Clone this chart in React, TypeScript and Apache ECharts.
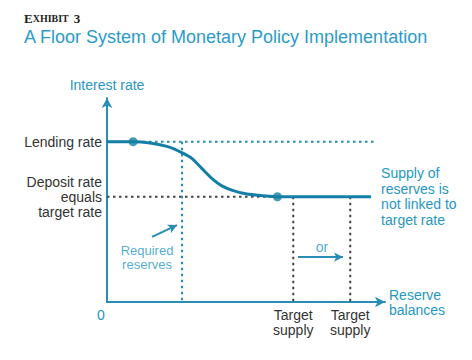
import React, { useEffect, useRef } from "react";
import * as echarts from "echarts";

// Chart values (arbitrary units: x = reserve balances 0-100, y = interest rate 0-100)
const lendingRate = 78.6;
const depositRate = 51.6;
const requiredReserves = 27;
const targetSupplies = [67, 87.5];
const lendingPoint = [9.4, 78.6];
const floorPoint = [61.3, 51.6];
const curveX = [0, 9.4, 15.5, 22.7, 26.9, 30.5, 34.1, 37.7, 41.3, 45.4, 50.3, 56.2, 61.3, 95];
const curveY = [78.6, 78.6, 77.9, 75.8, 73.2, 70.4, 65.5, 60.6, 56.9, 54.6, 52.9, 52.1, 51.6, 51.6];
const lendingLineEnd = 96;
const orArrow = [[68.7, 22], [84.9, 22]];
const orLabel = [77.3, 27];
const reqArrow = [[16.2, 31.9], [25.2, 37.7]];
const reqLabel = [14.4, 21.8];
const yTickValues = [depositRate, lendingRate];
const yTickLabels = ["Deposit rate\nequals\ntarget rate", "Lending rate"];
const xTickValues = [0, targetSupplies[0], targetSupplies[1]];
const xTickLabels = ["0", "Target\nsupply", "Target\nsupply"];

const TEAL = "#2597c4";
const LINE = "#137fa6";
const DARK = "#333333";
const FONT = "Liberation Sans, Arial, sans-serif";

export default function App() {
  const ref = useRef<HTMLDivElement>(null);
  useEffect(() => {
    if (!ref.current) return;
    const chart = echarts.init(ref.current, null, { renderer: "svg" });
    const curve = curveX.map((x, i) => [x, curveY[i]]);
    const dotted = (data: number[][], color: string) => ({
      type: "line",
      data,
      showSymbol: false,
      symbol: "none",
      silent: true,
      lineStyle: { color, width: 2, type: [2.5, 3.5] },
      z: 3,
    });
    chart.setOption({
      animation: false,
      textStyle: { fontFamily: FONT },
      title: [
        {
          text: "{e|E}{s|XHIBIT} {e|3}",
          left: 24,
          top: 9,
          padding: 0,
          textStyle: {
            rich: {
              e: { fontFamily: "Liberation Serif, serif", fontWeight: "bold", fontSize: 13, color: "#222" },
              s: { fontFamily: "Liberation Serif, serif", fontWeight: "bold", fontSize: 10, color: "#222" },
            },
          },
        },
        {
          text: "A Floor System of Monetary Policy Implementation",
          left: 24,
          top: 28,
          padding: 0,
          textStyle: { fontFamily: FONT, fontSize: 18, fontWeight: "normal", color: "#2a9bc8" },
        },
      ],
      grid: { left: 107, right: 87, top: 98, bottom: 58, containLabel: false },
      xAxis: {
        type: "value",
        min: 0,
        max: 100,
        splitLine: { show: false },
        axisTick: { show: false },
        axisLine: {
          lineStyle: { color: "#2a8db5", width: 2 },
          symbol: ["none", "arrow"],
          symbolSize: [8, 10],
        },
        name: "Reserve\nbalances",
        nameLocation: "end",
        nameGap: 4,
        nameTextStyle: { color: TEAL, fontSize: 14, lineHeight: 15, align: "left", fontFamily: FONT },
        axisLabel: {
          customValues: xTickValues,
          margin: 5,
          fontSize: 14,
          lineHeight: 15,
          fontFamily: FONT,
          color: (v: number) => (v === 0 ? TEAL : DARK),
          formatter: (v: number) => {
            const i = xTickValues.indexOf(v);
            const t = i >= 0 ? xTickLabels[i] : "";
            return v === 0 ? "{z|" + t + "}" : t;
          },
          rich: { z: { color: TEAL, fontSize: 14, padding: [0, 12, 0, 0] } },
        },
      },
      yAxis: {
        type: "value",
        min: 0,
        max: 100,
        splitLine: { show: false },
        axisTick: { show: false },
        axisLine: {
          lineStyle: { color: "#2a8db5", width: 2 },
          symbol: ["none", "arrow"],
          symbolSize: [8, 10],
        },
        name: "Interest rate",
        nameLocation: "end",
        nameGap: 6,
        nameTextStyle: { color: TEAL, fontSize: 14, align: "center", fontFamily: FONT },
        axisLabel: {
          customValues: yTickValues,
          margin: 5,
          fontSize: 14,
          lineHeight: 15,
          fontFamily: FONT,
          color: (v: number) => (v === lendingRate ? TEAL : DARK),
          formatter: (v: number) => {
            const i = yTickValues.indexOf(v);
            return i >= 0 ? yTickLabels[i] : "";
          },
        },
      },
      series: [
        dotted([[0, lendingRate], [lendingLineEnd, lendingRate]], "#1f8ab3"),
        dotted([[0, depositRate], [floorPoint[0], depositRate]], "#444"),
        dotted([[requiredReserves, lendingRate], [requiredReserves, 0]], "#1f8ab3"),
        dotted([[targetSupplies[0], depositRate], [targetSupplies[0], 0]], "#444"),
        dotted([[targetSupplies[1], depositRate], [targetSupplies[1], 0]], "#444"),
        {
          type: "line",
          data: curve,
          smooth: 0.25,
          showSymbol: false,
          symbol: "none",
          lineStyle: { color: LINE, width: 3 },
          z: 5,
          markPoint: {
            symbol: "circle",
            symbolSize: 0,
            data: [
              {
                coord: curve[curve.length - 1],
                label: {
                  show: true,
                  position: "right",
                  distance: 10,
                  formatter: "Supply of\nreserves is\nnot linked to\ntarget rate",
                  color: TEAL,
                  fontSize: 14,
                  lineHeight: 15.5,
                  fontFamily: FONT,
                  align: "left",
                },
              },
            ],
          },
          markLine: {
            silent: true,
            symbol: ["none", "arrow"],
            symbolSize: [7, 9],
            label: { show: false },
            lineStyle: { color: "#2a8db5", width: 2, type: "solid" },
            data: [
              [{ coord: orArrow[0] }, { coord: orArrow[1] }],
              [{ coord: reqArrow[0] }, { coord: reqArrow[1] }],
            ],
          },
        },
        {
          type: "scatter",
          data: [lendingPoint, floorPoint],
          symbolSize: 9,
          itemStyle: { color: LINE },
          z: 6,
        },
        {
          type: "scatter",
          data: [
            { value: orLabel, label: { formatter: "or", fontSize: 14 } },
            { value: reqLabel, label: { formatter: "Required\nreserves", fontSize: 13, lineHeight: 14 } },
          ],
          symbolSize: 0,
          label: {
            show: true,
            position: "inside",
            color: TEAL,
            fontSize: 14,
            lineHeight: 14,
            fontFamily: FONT,
          },
          z: 7,
        },
      ],
    });
    return () => chart.dispose();
  }, []);
  return (
    <div
      ref={ref}
      style={{ position: "absolute", left: 0, top: 0, width: 472, height: 360 }}
    />
  );
}
